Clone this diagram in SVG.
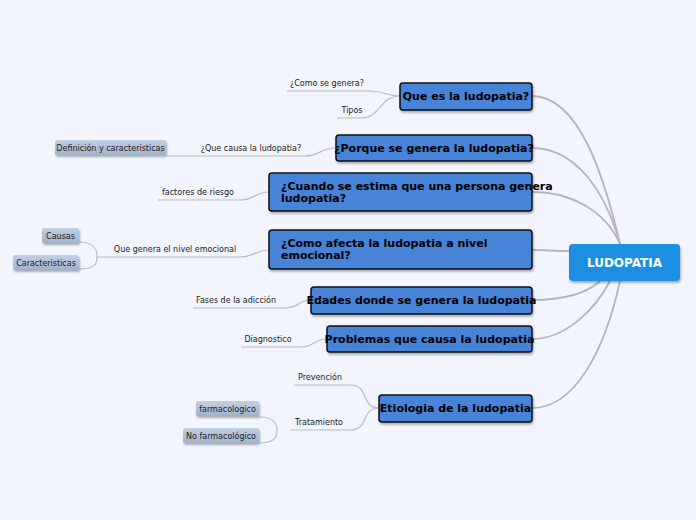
<svg xmlns="http://www.w3.org/2000/svg" width="696" height="520" viewBox="0 0 696 520">
<defs>
<linearGradient id="lg" x1="0" y1="0" x2="0" y2="1"><stop offset="0" stop-color="#c3d0e2"/><stop offset="1" stop-color="#9fb2cb"/></linearGradient>
<filter id="sh" x="-10%" y="-20%" width="130%" height="160%"><feDropShadow dx="1" dy="2" stdDeviation="1.2" flood-color="#000" flood-opacity="0.3"/></filter>
</defs>
<style>
text{font-family:"DejaVu Sans","Liberation Sans",sans-serif}
.main rect{fill:#4683d6;stroke:#111;stroke-width:1.5}
.main text{font-size:11px;font-weight:bold;fill:#000}
.sub{font-size:8px;fill:#222}
.leaf rect{fill:url(#lg)}
.leaf text{font-size:8px;fill:#222}
.c{fill:none;stroke:#b9bcc4;stroke-width:1.2}
.cc{fill:none;stroke:#b4b6bc;stroke-width:1.8}
</style>
<rect width="696" height="520" fill="#f2f5fd"/>
<g id="connectors">
<path class="cc" d="M620,244 C605,180 580,96 532,96"/>
<path class="cc" d="M620,244 C605,190 575,148 532,148"/>
<path class="cc" d="M620,244 C605,210 570,192 532,192"/>
<path class="cc" d="M569,251 C555,251 545,250 532,250"/>
<path class="cc" d="M600,281 C585,295 560,300 532,300"/>
<path class="cc" d="M610,281 C595,310 565,339 532,339"/>
<path class="cc" d="M620,281 C605,350 575,408 532,408"/>
<path class="c" d="M287,91 H370 C385,91 385,96 400,96"/>
<path class="c" d="M337,118 H362 C380,118 380,96 400,96"/>
<path class="c" d="M166,156 H305 C320,156 320,148 336,148"/>
<path class="c" d="M158,200 H240 C255,200 255,192 269,192"/>
<path class="c" d="M97,257 H240 C255,257 255,250 269,250"/>
<path class="c" d="M79,242 C95,242 97,250 97,257 C97,264 95,269 79,269"/>
<path class="c" d="M193,308 H285 C300,308 298,300 311,300"/>
<path class="c" d="M241,347 H300 C315,347 313,339 327,339"/>
<path class="c" d="M294,385 H350 C370,385 360,408 379,408"/>
<path class="c" d="M290,430 H350 C370,430 360,408 379,408"/>
<path class="c" d="M259,417 C275,417 277,424 277,430 C277,437 275,443 259,443"/>
</g>
<g id="center"><rect x="569" y="244" width="111" height="37" rx="4" fill="#1a8fe3" filter="url(#sh)"/><text x="624.5" y="267" font-size="12" font-weight="bold" fill="#fff" text-anchor="middle">LUDOPATIA</text></g>
<g id="n1" class="main"><rect x="400" y="83" width="132" height="27" rx="3" filter="url(#sh)"/><text x="466" y="100" text-anchor="middle">Que es la ludopatia?</text></g>
<g id="n2" class="main"><rect x="336" y="135" width="196" height="26" rx="3" filter="url(#sh)"/><text x="434" y="152" text-anchor="middle">¿Porque se genera la ludopatia?</text></g>
<g id="n3" class="main"><rect x="269" y="173" width="263" height="38" rx="3" filter="url(#sh)"/><text x="281" y="190">¿Cuando se estima que una persona genera</text><text x="281" y="202">ludopatia?</text></g>
<g id="n4" class="main"><rect x="269" y="230" width="263" height="39" rx="3" filter="url(#sh)"/><text x="281" y="247">¿Como afecta la ludopatia a nivel</text><text x="281" y="259">emocional?</text></g>
<g id="n5" class="main"><rect x="311" y="287" width="221" height="27" rx="3" filter="url(#sh)"/><text x="421.5" y="304" text-anchor="middle">Edades donde se genera la ludopatia</text></g>
<g id="n6" class="main"><rect x="327" y="326" width="205" height="26" rx="3" filter="url(#sh)"/><text x="429.5" y="343" text-anchor="middle">Problemas que causa la ludopatia</text></g>
<g id="n7" class="main"><rect x="379" y="395" width="153" height="27" rx="3" filter="url(#sh)"/><text x="455.5" y="412" text-anchor="middle">Etiologia de la ludopatia</text></g>
<g id="s1"><text class="sub" x="327" y="86" text-anchor="middle">¿Como se genera?</text></g>
<g id="s2"><text class="sub" x="352" y="113" text-anchor="middle">Tipos</text></g>
<g id="s3"><text class="sub" x="251" y="151" text-anchor="middle">¿Que causa la ludopatia?</text></g>
<g id="s4"><text class="sub" x="198" y="195" text-anchor="middle">factores de riesgo</text></g>
<g id="s5"><text class="sub" x="175" y="252" text-anchor="middle">Que genera el nivel emocional</text></g>
<g id="s6"><text class="sub" x="236" y="303" text-anchor="middle">Fases de la adicción</text></g>
<g id="s7"><text class="sub" x="268" y="342" text-anchor="middle">Diagnostico</text></g>
<g id="s8"><text class="sub" x="320" y="380" text-anchor="middle">Prevención</text></g>
<g id="s9"><text class="sub" x="319" y="425" text-anchor="middle">Tratamiento</text></g>
<g id="l1" class="leaf"><rect x="55" y="140" width="111" height="15" rx="2" filter="url(#sh)"/><text x="110.5" y="150.5" text-anchor="middle">Definición y caracteristicas</text></g>
<g id="l2" class="leaf"><rect x="42" y="228" width="37" height="15" rx="2" filter="url(#sh)"/><text x="60.5" y="238.5" text-anchor="middle">Causas</text></g>
<g id="l3" class="leaf"><rect x="13" y="255" width="66" height="15" rx="2" filter="url(#sh)"/><text x="46" y="265.5" text-anchor="middle">Caracteristicas</text></g>
<g id="l4" class="leaf"><rect x="196" y="401" width="63" height="15" rx="2" filter="url(#sh)"/><text x="227.5" y="411.5" text-anchor="middle">farmacologico</text></g>
<g id="l5" class="leaf"><rect x="183" y="428" width="76" height="15" rx="2" filter="url(#sh)"/><text x="221" y="438.5" text-anchor="middle">No farmacológico</text></g>
</svg>
